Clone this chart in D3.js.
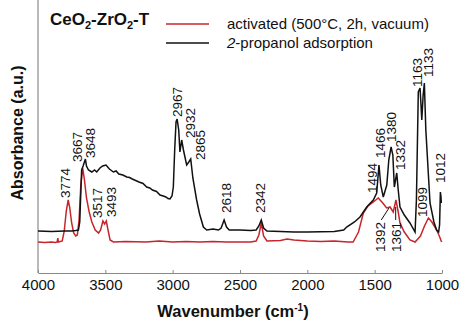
<!DOCTYPE html>
<html>
<head>
<meta charset="utf-8">
<script src="https://cdn.jsdelivr.net/npm/d3@7"></script>
<style>
  body { margin: 0; background: #fff; }
  text { font-family: "Liberation Sans", Arial, sans-serif; fill: #111; }
</style>
</head>
<body>
<div id="container"></div>
<script>
// spectra: [wavenumber, absorbance]
var activated = [[4000,0.31],[3950,0.305],[3900,0.31],[3870,0.305],[3858,0.31],[3853,0.35],[3848,0.31],[3820,0.32],[3805,0.42],[3790,0.62],[3776,0.73],[3765,0.66],[3750,0.50],[3735,0.40],[3720,0.37],[3708,0.38],[3695,0.53],[3682,0.88],[3668,1.05],[3655,0.93],[3640,0.75],[3620,0.61],[3600,0.51],[3575,0.43],[3550,0.40],[3535,0.43],[3518,0.52],[3505,0.49],[3493,0.52],[3480,0.43],[3465,0.33],[3440,0.31],[3350,0.315],[3200,0.31],[3100,0.32],[3000,0.31],[2900,0.315],[2800,0.31],[2700,0.315],[2600,0.31],[2500,0.31],[2420,0.31],[2380,0.32],[2360,0.38],[2342,0.50],[2325,0.37],[2300,0.32],[2200,0.325],[2150,0.34],[2100,0.33],[2000,0.32],[1900,0.315],[1800,0.32],[1700,0.31],[1660,0.31],[1620,0.41],[1584,0.60],[1550,0.67],[1510,0.71],[1473,0.75],[1440,0.70],[1411,0.65],[1386,0.66],[1362,0.61],[1342,0.73],[1325,0.61],[1312,0.50],[1280,0.41],[1238,0.33],[1200,0.31],[1160,0.37],[1130,0.47],[1101,0.55],[1075,0.51],[1040,0.43],[1020,0.37],[1003,0.31]];

var propanol = [[4000,0.42],[3900,0.415],[3800,0.42],[3750,0.42],[3720,0.425],[3700,0.43],[3690,0.51],[3676,1.03],[3665,1.07],[3648,1.14],[3640,1.07],[3625,1.03],[3600,1.01],[3580,1.03],[3564,1.01],[3540,1.05],[3520,1.07],[3495,1.08],[3470,1.04],[3440,1.01],[3420,1.02],[3400,0.99],[3370,0.98],[3341,0.96],[3320,0.955],[3300,0.94],[3275,0.925],[3250,0.91],[3220,0.895],[3193,0.86],[3170,0.85],[3150,0.83],[3120,0.815],[3094,0.78],[3070,0.77],[3050,0.76],[3035,0.745],[3020,0.74],[3005,0.77],[2995,0.86],[2985,1.23],[2975,1.51],[2967,1.54],[2955,1.43],[2946,1.21],[2933,1.33],[2920,1.23],[2896,1.08],[2880,1.11],[2866,1.14],[2850,0.95],[2822,0.73],[2800,0.59],[2772,0.46],[2747,0.43],[2700,0.44],[2660,0.43],[2640,0.45],[2618,0.53],[2600,0.46],[2580,0.43],[2500,0.43],[2420,0.425],[2380,0.43],[2360,0.47],[2342,0.53],[2325,0.45],[2300,0.42],[2200,0.415],[2100,0.41],[2000,0.41],[1900,0.413],[1800,0.415],[1730,0.43],[1708,0.46],[1650,0.51],[1609,0.56],[1559,0.66],[1510,0.73],[1485,0.80],[1468,1.08],[1455,0.88],[1436,0.76],[1410,0.88],[1395,1.13],[1378,1.26],[1365,1.18],[1354,0.86],[1336,1.00],[1325,0.83],[1312,0.66],[1280,0.58],[1238,0.50],[1200,0.41],[1190,0.73],[1176,1.81],[1163,1.85],[1156,1.68],[1150,1.53],[1140,1.78],[1131,1.90],[1120,1.43],[1089,0.70],[1060,0.51],[1040,0.43],[1025,0.41],[1018,0.48],[1012,0.81],[1008,0.77],[1005,0.70]];

var xTicks = [4000, 3500, 3000, 2500, 2000, 1500, 1000];
var seriesNames = ["activated (500°C, 2h, vacuum)", "2-propanol adsorption"];

// peak labels: text, where the label sits (wavenumber), bottom of label (absorbance)
var peakTags = [
  ["3774", 3800, 0.75], ["3667", 3710, 1.11], ["3648", 3614, 1.15],
  ["3517", 3562, 0.55], ["3493", 3458, 0.56], ["2967", 2968, 1.56],
  ["2932", 2871, 1.35], ["2865", 2797, 1.13], ["2618", 2604, 0.60],
  ["2342", 2352, 0.60], ["1494", 1520, 0.80], ["1466", 1460, 1.15],
  ["1380", 1379, 1.31], ["1332", 1312, 1.03], ["1163", 1186, 1.86],
  ["1133", 1104, 1.96], ["1012", 1015, 0.90], ["1099", 1149, 0.56],
  ["1392", 1460, 0.21], ["1361", 1342, 0.21]
];
// leader lines for the two labels under the curves
var leaders = [[[1451, 0.53], [1394, 0.65]], [[1344, 0.53], [1344, 0.66]]];

var width = 474, height = 332;
var plotLeft = 38, plotRight = 442, plotTop = 0, plotBottom = 273;

var svg = d3.select("#container").append("svg")
    .attr("width", width)
    .attr("height", height);

var x = d3.scaleLinear().domain([4000, 1000]).range([plotLeft, plotRight]);
var y = d3.scaleLinear().domain([0, 2.73]).range([plotBottom, plotTop]);

// axes
svg.append("line")
    .attr("x1", plotLeft).attr("x2", plotLeft)
    .attr("y1", plotTop).attr("y2", plotBottom)
    .style("stroke", "#8a8a8a").style("stroke-width", 1.2);

var xAxis = svg.append("g")
    .attr("transform", "translate(0," + plotBottom + ")")
    .call(d3.axisBottom(x).tickValues(xTicks).tickSizeInner(-3).tickSizeOuter(0).tickPadding(6).tickFormat(d3.format("d")));
xAxis.select(".domain").style("stroke", "#8a8a8a").style("stroke-width", 1.2);
xAxis.selectAll(".tick line").style("stroke", "#8a8a8a");
xAxis.selectAll("text")
    .style("font-size", "15px")
    .style("font-family", "'Liberation Sans', Arial, sans-serif")
    .style("fill", "#111");

// lines
var line = d3.line()
    .x(function(d) { return x(d[0]); })
    .y(function(d) { return y(d[1]); });

svg.append("path")
    .datum(activated)
    .attr("d", line)
    .style("fill", "none")
    .style("stroke", "#c8242b")
    .style("stroke-width", 1.5);

svg.append("path")
    .datum(propanol)
    .attr("d", line)
    .style("fill", "none")
    .style("stroke", "#111")
    .style("stroke-width", 1.5);

// peak labels
svg.selectAll("text.peak")
    .data(peakTags)
    .enter().append("text")
    .attr("class", "peak")
    .attr("transform", function(d) { return "translate(" + x(d[1]) + "," + y(d[2]) + ") rotate(-90)"; })
    .attr("dy", "0.35em")
    .style("font-size", "13.5px")
    .text(function(d) { return d[0]; });

svg.selectAll("line.leader")
    .data(leaders)
    .enter().append("line")
    .attr("class", "leader")
    .attr("x1", function(d) { return x(d[0][0]); })
    .attr("y1", function(d) { return y(d[0][1]); })
    .attr("x2", function(d) { return x(d[1][0]); })
    .attr("y2", function(d) { return y(d[1][1]); })
    .style("stroke", "#111")
    .style("stroke-width", 1);

// title
var title = svg.append("text")
    .attr("x", 50).attr("y", 25)
    .style("font-size", "17px")
    .style("font-weight", "bold");
title.append("tspan").text("CeO");
title.append("tspan").attr("dy", 4).style("font-size", "11px").text("2");
title.append("tspan").attr("dy", -4).text("-ZrO");
title.append("tspan").attr("dy", 4).style("font-size", "11px").text("2");
title.append("tspan").attr("dy", -4).text("-T");

// legend
var legendColors = ["#c8242b", "#111"];
var legend = svg.selectAll("g.legend")
    .data(seriesNames)
    .enter().append("g")
    .attr("class", "legend")
    .attr("transform", function(d, i) { return "translate(166," + (24 + i * 19) + ")"; });

legend.append("line")
    .attr("x1", 0).attr("x2", 43)
    .style("stroke", function(d, i) { return legendColors[i]; })
    .style("stroke-width", 1.5);

legend.append("text")
    .attr("x", 61).attr("dy", "0.33em")
    .style("font-size", "15px")
    .each(function(d, i) {
        var t = d3.select(this);
        if (i === 1) {
            t.append("tspan").style("font-style", "italic").text("2");
            t.append("tspan").text(d.slice(1));
        } else {
            t.text(d);
        }
    });

// axis titles
var xt = svg.append("text")
    .attr("x", (plotLeft + plotRight) / 2 - 7).attr("y", 317)
    .attr("text-anchor", "middle")
    .style("font-size", "16.5px")
    .style("font-weight", "bold");
xt.append("tspan").text("Wavenumber (cm");
xt.append("tspan").attr("dy", -6).style("font-size", "10px").text("-1");
xt.append("tspan").attr("dy", 6).text(")");

svg.append("text")
    .attr("transform", "translate(23,133) rotate(-90)")
    .attr("text-anchor", "middle")
    .style("font-size", "16px")
    .style("font-weight", "bold")
    .text("Absorbance (a.u.)");
</script>
</body>
</html>
